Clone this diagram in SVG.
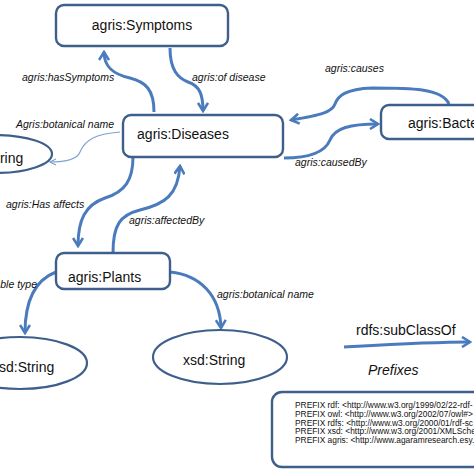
<svg xmlns="http://www.w3.org/2000/svg" width="474" height="474" viewBox="0 0 474 474">
<defs>
<style>
.box{fill:#fff;stroke:#3e5f8c;stroke-width:2.4}
.ell{fill:#fff;stroke:#3e5f8c;stroke-width:2.2}
.t{font-family:"Liberation Sans",Arial,sans-serif;font-size:14px;fill:#111}
.lbl{font-family:"Liberation Sans",Arial,sans-serif;font-size:10.5px;font-style:italic;fill:#111}
.pre{font-family:"Liberation Sans",Arial,sans-serif;font-size:8.4px;fill:#111}
.c{fill:none;stroke:#4a7bbd;stroke-width:3;marker-end:url(#arr)}
.thin{fill:none;stroke:#7fa3d0;stroke-width:1.2;marker-end:url(#arrs)}
</style>
<marker id="arr" viewBox="0 0 12 12" refX="10" refY="6" markerWidth="12" markerHeight="12" orient="auto" markerUnits="userSpaceOnUse">
<path d="M2,1 L10,6 L2,11" fill="none" stroke="#4a7bbd" stroke-width="2.6"/>
</marker>
<marker id="arrs" viewBox="0 0 8 8" refX="7" refY="4" markerWidth="8" markerHeight="8" orient="auto" markerUnits="userSpaceOnUse">
<path d="M1,1 L7,4 L1,7" fill="none" stroke="#7fa3d0" stroke-width="1.2"/>
</marker>
</defs>
<rect width="474" height="474" fill="#fff"/>
<g id="connectors">
<path class="c" d="M154,112 C154,90 146,82 130,78 C112,74 104,66 104,52"/>
<path class="c" d="M170,48 C170,70 178,78 188,82 C200,86 203,95 203,111"/>
<path class="thin" d="M120,132 C95,134 85,140 80,152 C77,160 65,162 50,162"/>
<path class="c" d="M449,104 C442,88 410,88 372,88 C345,89 338,96 335,104 C332,112 322,115 291,120"/>
<path class="c" d="M284,158 C310,158 325,152 330,140 C335,128 350,124 378,124"/>
<path class="c" d="M133,157 C133,180 125,192 105,198 C85,205 78,220 78,246"/>
<path class="c" d="M113,253 C113,225 120,215 140,210 C165,204 178,195 180,166"/>
<path class="c" d="M56,272 C35,280 25,300 25,333"/>
<path class="c" d="M170,272 C200,275 220,295 221,328"/>
<path class="c" d="M344,347 C380,345 430,342 470,342"/>
</g>
<g id="labels">
<text class="lbl" x="22" y="81">agris:hasSymptoms</text>
<text class="lbl" x="192" y="81">agris:of disease</text>
<text class="lbl" x="16" y="128">Agris:botanical name</text>
<text class="lbl" x="325" y="72">agris:causes</text>
<text class="lbl" x="295" y="166">agris:causedBy</text>
<text class="lbl" x="6" y="208">agris:Has affects</text>
<text class="lbl" x="129" y="224">agris:affectedBy</text>
<text class="lbl" x="37" y="288" text-anchor="end">ble type</text>
<text class="lbl" x="217" y="298">agris:botanical name</text>
</g>
<g id="symptoms">
<rect class="box" x="56" y="5" width="172" height="41" rx="8"/>
<text class="t" x="142" y="30" text-anchor="middle">agris:Symptoms</text>
</g>
<g id="diseases">
<rect class="box" x="123" y="115" width="160" height="42" rx="8"/>
<text class="t" x="183" y="139" text-anchor="middle">agris:Diseases</text>
</g>
<g id="bacteria">
<rect class="box" x="381" y="105" width="130" height="34" rx="8"/>
<text class="t" x="408" y="128">agris:Bacteria</text>
</g>
<g id="plants">
<rect class="box" x="56" y="253" width="114" height="36" rx="8"/>
<text class="t" x="68" y="282">agris:Plants</text>
</g>
<g id="string-left">
<ellipse class="ell" cx="-5" cy="154" rx="57" ry="19"/>
<text class="t" x="-39" y="163">xsd:String</text>
</g>
<g id="string-bottom-left">
<ellipse class="ell" cx="20" cy="363" rx="67" ry="26"/>
<text class="t" x="-8" y="372">xsd:String</text>
</g>
<g id="string-bottom">
<ellipse class="ell" cx="220" cy="357" rx="67" ry="27"/>
<text class="t" x="183" y="365">xsd:String</text>
</g>
<g id="legend">
<text class="t" x="356" y="335">rdfs:subClassOf</text>
<text class="t" x="368" y="375" font-style="italic" font-size="13.5">Prefixes</text>
<rect class="box" x="272" y="392" width="230" height="75" rx="10"/>
<text class="pre" x="295" y="408">PREFIX rdf: &lt;http://www.w3.org/1999/02/22-rdf-</text>
<text class="pre" x="295" y="417">PREFIX owl: &lt;http://www.w3.org/2002/07/owl#&gt;</text>
<text class="pre" x="295" y="425.5">PREFIX rdfs: &lt;http://www.w3.org/2000/01/rdf-sc</text>
<text class="pre" x="295" y="434">PREFIX xsd: &lt;http://www.w3.org/2001/XMLSchem</text>
<text class="pre" x="295" y="443">PREFIX agris: &lt;http://www.agaramresearch.esy.e</text>
</g>
</svg>
